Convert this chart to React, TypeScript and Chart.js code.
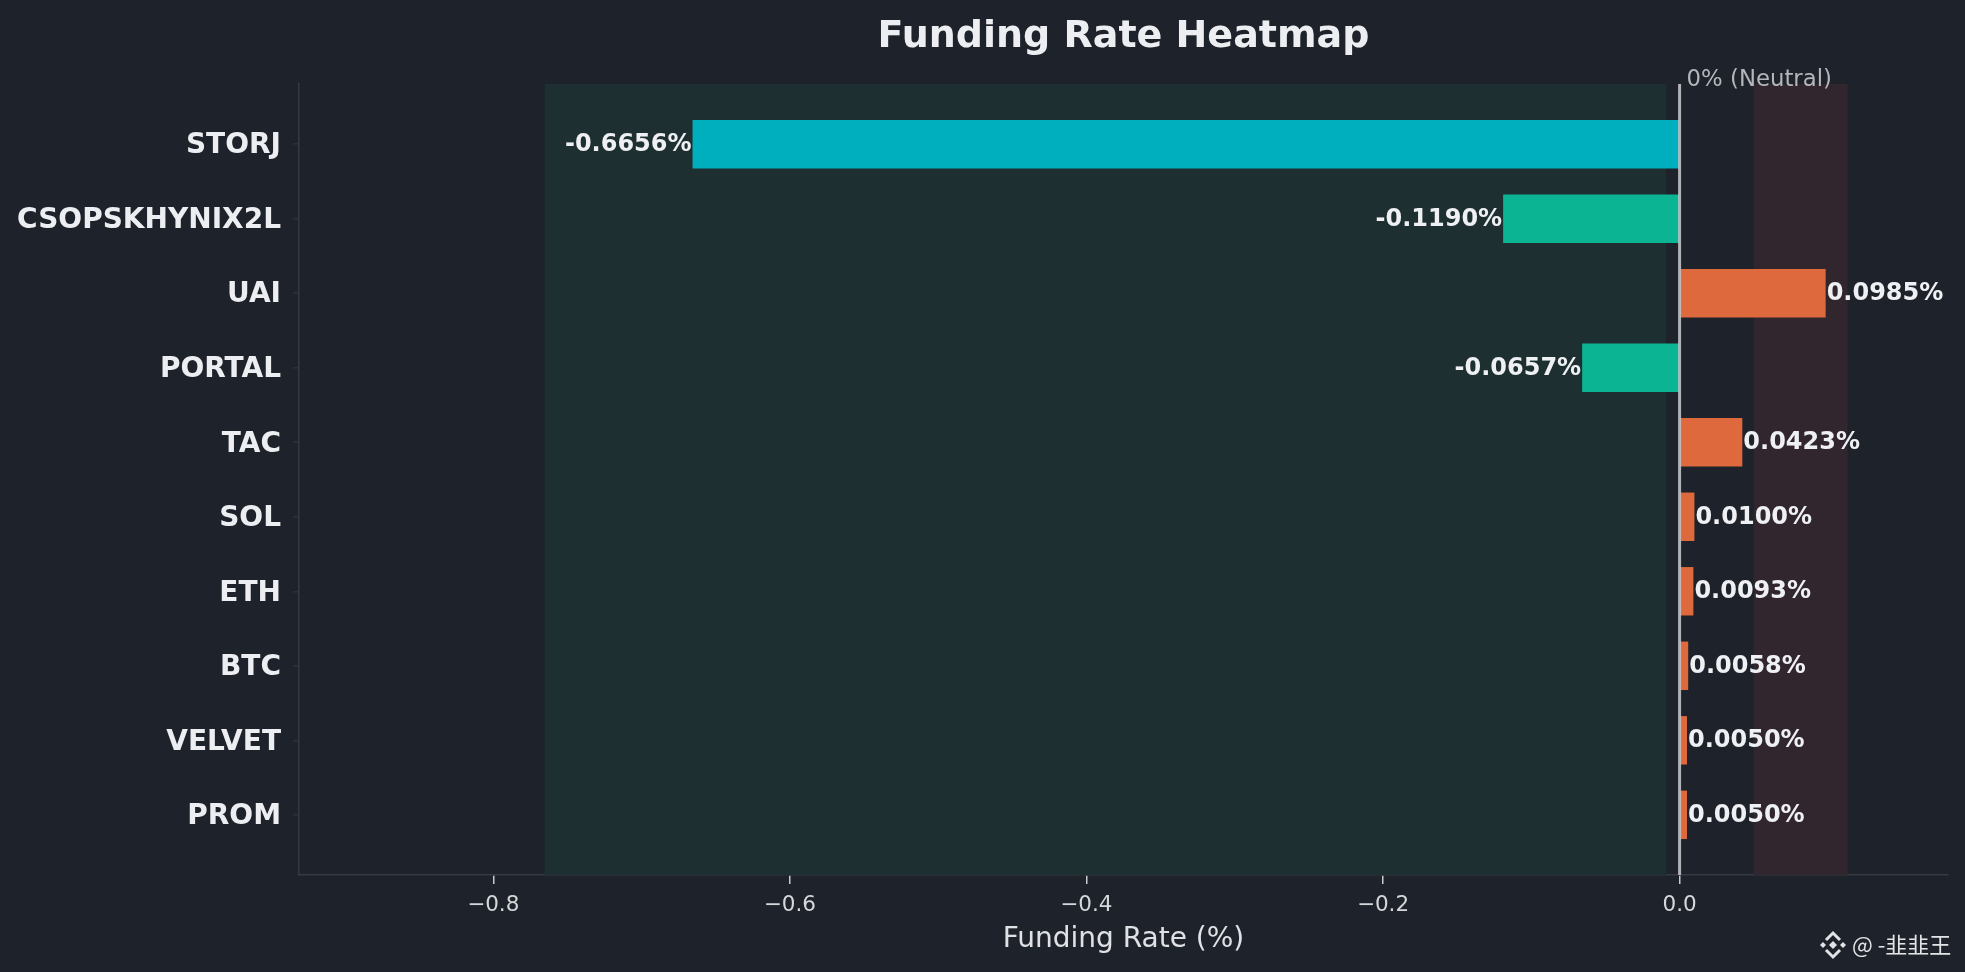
import React, { useEffect, useRef } from "react";
import { Chart, registerables } from "chart.js";

Chart.register(...registerables);

const symbols = ["STORJ", "CSOPSKHYNIX2L", "UAI", "PORTAL", "TAC", "SOL", "ETH", "BTC", "VELVET", "PROM"];
const fundingRates = [-0.6656, -0.119, 0.0985, -0.0657, 0.0423, 0.01, 0.0093, 0.0058, 0.005, 0.005];
const barColors = ["#00afbe", "#0bb594", "#de693c", "#0bb594", "#de693c", "#de693c", "#de693c", "#de693c", "#de693c", "#de693c"];
const xTickValues = [-0.8, -0.6, -0.4, -0.2, 0.0];
const negativeZone = [-0.7654, -0.009];
const positiveZone = [0.05, 0.1133];
const xRange = [-0.931, 0.181];
const yRange = [-0.8075, 9.8075];
const titleText = "Funding Rate Heatmap";
const xAxisTitle = "Funding Rate (%)";
const neutralLabel = "0% (Neutral)";
const watermarkText = "@ -韭韭王";

const FONT = "'DejaVu Sans', 'Noto Sans', sans-serif";
const BG = "#1e222a";

const overlayPlugin = {
  id: "overlay",
  beforeDatasetsDraw(chart: any) {
    const { ctx, chartArea } = chart;
    const x = chart.scales.x;
    ctx.save();
    ctx.fillStyle = "#1d2f30";
    const g0 = x.getPixelForValue(negativeZone[0]);
    const g1 = x.getPixelForValue(negativeZone[1]);
    ctx.fillRect(g0, chartArea.top, g1 - g0, chartArea.bottom - chartArea.top);
    ctx.fillStyle = "#31262e";
    const r0 = x.getPixelForValue(positiveZone[0]);
    const r1 = x.getPixelForValue(positiveZone[1]);
    ctx.fillRect(r0, chartArea.top, r1 - r0, chartArea.bottom - chartArea.top);
    ctx.restore();
  },
  afterDatasetsDraw(chart: any) {
    const { ctx, chartArea } = chart;
    const x = chart.scales.x;
    const y = chart.scales.y;
    ctx.save();
    const zx = x.getPixelForValue(0);
    ctx.strokeStyle = "rgba(205,205,208,0.85)";
    ctx.lineWidth = 3;
    ctx.beginPath();
    ctx.moveTo(zx, chartArea.top);
    ctx.lineTo(zx, chartArea.bottom);
    ctx.stroke();

    ctx.font = `bold 24px ${FONT}`;
    ctx.fillStyle = "#eef0f3";
    ctx.textBaseline = "alphabetic";
    fundingRates.forEach((v, i) => {
      const px = x.getPixelForValue(v);
      const py = y.getPixelForValue(i) + 7;
      const label = `${v.toFixed(4)}%`;
      if (v < 0) {
        ctx.textAlign = "right";
        ctx.fillText(label, px - 1, py);
      } else {
        ctx.textAlign = "left";
        ctx.fillText(label, px + 1, py);
      }
    });

    ctx.font = `22.8px ${FONT}`;
    ctx.fillStyle = "#b4b6ba";
    ctx.textAlign = "left";
    ctx.fillText(neutralLabel, zx + 7, 85.5);
    ctx.restore();
  },
  afterDraw(chart: any) {
    const { ctx, chartArea } = chart;
    const cx = (chartArea.left + chartArea.right) / 2;
    ctx.save();
    ctx.fillStyle = "#eceef1";
    ctx.textAlign = "center";
    ctx.textBaseline = "alphabetic";
    ctx.font = `bold 38px ${FONT}`;
    ctx.fillText(titleText, cx, 47);
    ctx.font = `28px ${FONT}`;
    ctx.fillStyle = "#dfe1e5";
    ctx.fillText(xAxisTitle, cx, 947);

    // watermark logo
    const lx = 1833, ly = 945;
    ctx.fillStyle = "#e2e3e5";
    const diamond = (cx0: number, cy0: number, r: number) => {
      ctx.beginPath();
      ctx.moveTo(cx0, cy0 - r);
      ctx.lineTo(cx0 + r, cy0);
      ctx.lineTo(cx0, cy0 + r);
      ctx.lineTo(cx0 - r, cy0);
      ctx.closePath();
      ctx.fill();
    };
    diamond(lx, ly, 4);
    diamond(lx - 10, ly, 3);
    diamond(lx + 10, ly, 3);
    ctx.strokeStyle = "#e2e3e5";
    ctx.lineWidth = 3;
    ctx.beginPath();
    ctx.moveTo(lx - 7, ly - 5);
    ctx.lineTo(lx, ly - 12);
    ctx.lineTo(lx + 7, ly - 5);
    ctx.stroke();
    ctx.beginPath();
    ctx.moveTo(lx - 7, ly + 5);
    ctx.lineTo(lx, ly + 12);
    ctx.lineTo(lx + 7, ly + 5);
    ctx.stroke();

    ctx.font = `22px 'Noto Sans CJK SC', 'Noto Sans', sans-serif`;
    ctx.textAlign = "left";
    ctx.textBaseline = "middle";
    ctx.fillText(watermarkText, 1852, ly);
    ctx.restore();
  },
};

export default function App() {
  const canvasRef = useRef<HTMLCanvasElement | null>(null);

  useEffect(() => {
    if (!canvasRef.current) return;
    const chart = new Chart(canvasRef.current, {
      type: "bar",
      data: {
        datasets: [
          {
            data: fundingRates.map((v, i) => ({ x: v, y: i })),
            backgroundColor: barColors,
            borderWidth: 0,
            barPercentage: 0.65,
            categoryPercentage: 1,
          },
        ],
      },
      plugins: [overlayPlugin],
      options: {
        animation: false,
        responsive: true,
        maintainAspectRatio: false,
        indexAxis: "y",
        layout: { padding: { top: 84, right: 17, bottom: 0, left: 0 } },
        plugins: {
          legend: { display: false },
          tooltip: { enabled: false },
          title: { display: false },
        },
        scales: {
          x: {
            type: "linear",
            position: "bottom",
            offset: false,
            min: xRange[0],
            max: xRange[1],
            afterBuildTicks: (axis: any) => {
              axis.ticks = xTickValues.map((v) => ({ value: v }));
            },
            afterFit: (s: any) => {
              s.height = 97;
            },
            ticks: {
              autoSkip: false,
              maxRotation: 0,
              padding: 9,
              color: "#d5d7db",
              font: { family: FONT, size: 21.5 },
              callback: (v: any) => {
                const n = Number(v);
                if (Math.abs(n) < 1e-9) return "0.0";
                return (n < 0 ? "\u2212" : "") + Math.abs(n).toFixed(1);
              },
            },
            grid: {
              offset: false,
              drawOnChartArea: false,
              drawTicks: true,
              tickLength: 9,
              tickColor: "#c8cacd",
              lineWidth: 1.5,
            },
            border: { display: true, color: "#353a42", width: 1.5 },
          },
          y: {
            type: "linear",
            offset: false,
            min: yRange[0],
            max: yRange[1],
            reverse: true,
            afterBuildTicks: (axis: any) => {
              axis.ticks = symbols.map((_, i) => ({ value: i }));
            },
            afterFit: (s: any) => {
              s.width = 299;
            },
            ticks: {
              autoSkip: false,
              padding: 12,
              labelOffset: 2,
              color: "#eceef1",
              font: { family: FONT, size: 28, weight: "bold" },
              callback: (v: any) => symbols[Math.round(Number(v))] ?? "",
            },
            grid: {
              offset: false,
              drawOnChartArea: false,
              drawTicks: true,
              tickLength: 6,
              tickColor: "#2c3038",
              lineWidth: 1.5,
            },
            border: { display: true, color: "#353a42", width: 1.5 },
          },
        },
      } as any,
    });
    return () => chart.destroy();
  }, []);

  return (
    <div
      style={{
        position: "fixed",
        left: 0,
        top: 0,
        width: 1965,
        height: 972,
        background: BG,
      }}
    >
      <canvas ref={canvasRef} />
    </div>
  );
}
